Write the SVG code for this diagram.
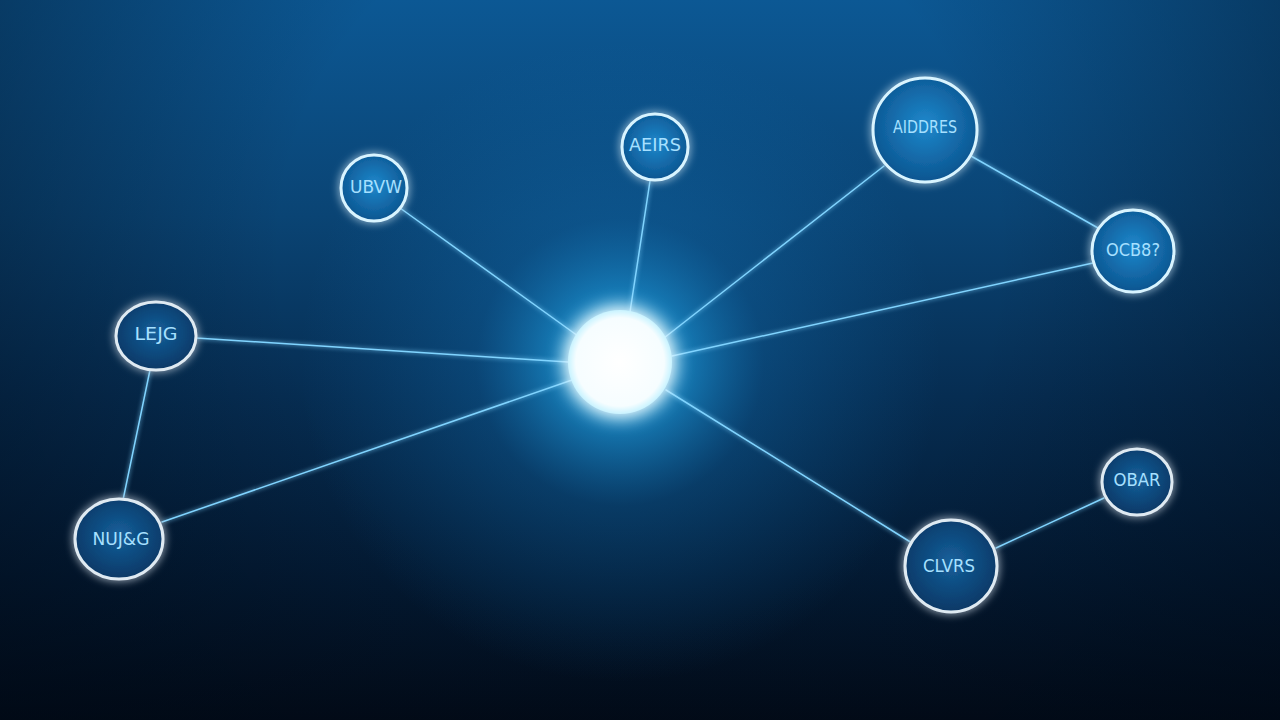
<svg xmlns="http://www.w3.org/2000/svg" width="1280" height="720" viewBox="0 0 1280 720">
<defs>
<linearGradient id="bgv" x1="0" y1="0" x2="0" y2="1">
<stop offset="0" stop-color="#0c5894"/>
<stop offset="0.3" stop-color="#0a4474"/>
<stop offset="0.55" stop-color="#062d52"/>
<stop offset="0.8" stop-color="#031a33"/>
<stop offset="1" stop-color="#020b18"/>
</linearGradient>
<radialGradient id="vig" cx="640" cy="250" r="900" gradientUnits="userSpaceOnUse">
<stop offset="0.4" stop-color="#000814" stop-opacity="0"/>
<stop offset="1" stop-color="#000814" stop-opacity="0.6"/>
</radialGradient>
<radialGradient id="halo" cx="620" cy="362" r="320" gradientUnits="userSpaceOnUse">
<stop offset="0" stop-color="#36c8ff" stop-opacity="0.95"/>
<stop offset="0.18" stop-color="#1ea2e6" stop-opacity="0.7"/>
<stop offset="0.45" stop-color="#1276bd" stop-opacity="0.3"/>
<stop offset="1" stop-color="#0e6aae" stop-opacity="0"/>
</radialGradient>
<radialGradient id="core" cx="0.5" cy="0.5" r="0.5">
<stop offset="0" stop-color="#ffffff"/>
<stop offset="0.85" stop-color="#f6fdff"/>
<stop offset="1" stop-color="#c8f3ff"/>
</radialGradient>
<radialGradient id="nodeFill" cx="0.5" cy="0.45" r="0.55">
<stop offset="0" stop-color="#1e88cc"/>
<stop offset="1" stop-color="#0c5590"/>
</radialGradient>
<radialGradient id="nodeFillDark" cx="0.5" cy="0.45" r="0.55">
<stop offset="0" stop-color="#15609b"/>
<stop offset="1" stop-color="#093866"/>
</radialGradient>
<filter id="glow" x="-50%" y="-50%" width="200%" height="200%">
<feGaussianBlur in="SourceGraphic" stdDeviation="4" result="b"/>
<feMerge><feMergeNode in="b"/><feMergeNode in="SourceGraphic"/></feMerge>
</filter>
<filter id="bigglow" x="-100%" y="-100%" width="300%" height="300%">
<feGaussianBlur in="SourceGraphic" stdDeviation="10" result="b"/>
<feMerge><feMergeNode in="b"/><feMergeNode in="b"/><feMergeNode in="SourceGraphic"/></feMerge>
</filter>
<filter id="lineglow" x="-10%" y="-10%" width="120%" height="120%">
<feGaussianBlur in="SourceGraphic" stdDeviation="2" result="b"/>
<feMerge><feMergeNode in="b"/><feMergeNode in="SourceGraphic"/></feMerge>
</filter>
</defs>
<style>
.ring{fill:url(#nodeFill);stroke:#d8f4ff;stroke-width:3;filter:url(#glow)}
.ringd{fill:url(#nodeFillDark);stroke:#dfeaf2;stroke-width:3;filter:url(#glow)}
.lbl{font-family:"DejaVu Sans Condensed","Liberation Sans",sans-serif;font-size:17px;font-weight:normal;fill:#a6e0ff;text-anchor:middle;dominant-baseline:central}
.edge{stroke:#80d4ff;stroke-width:1.5;fill:none;stroke-linecap:round}
</style>
<rect width="1280" height="720" fill="url(#bgv)"/>
<rect width="1280" height="720" fill="url(#vig)"/>
<circle cx="620" cy="362" r="320" fill="url(#halo)"/>
<g id="connectors" filter="url(#lineglow)">
<line class="edge" x1="400" y1="208" x2="578" y2="336"/>
<line class="edge" x1="650" y1="181" x2="630" y2="312"/>
<line class="edge" x1="884" y1="166" x2="664" y2="338"/>
<line class="edge" x1="971" y1="156" x2="1098" y2="228"/>
<line class="edge" x1="1093" y1="263" x2="672" y2="356"/>
<line class="edge" x1="196" y1="338" x2="568" y2="362"/>
<line class="edge" x1="150" y1="370" x2="123" y2="500"/>
<line class="edge" x1="162" y1="522" x2="572" y2="380"/>
<line class="edge" x1="666" y1="390" x2="912" y2="543"/>
<line class="edge" x1="996" y1="548" x2="1104" y2="498"/>
</g>
<g id="center">
<circle cx="620" cy="362" r="52" fill="url(#core)" filter="url(#bigglow)"/>
</g>
<g id="n-ubvw">
<circle class="ring" cx="374" cy="188" r="33"/>
<text class="lbl" x="376" y="187" textLength="52" lengthAdjust="spacingAndGlyphs">UBVW</text>
</g>
<g id="n-aeirs">
<circle class="ring" cx="655" cy="147" r="33"/>
<text class="lbl" x="655" y="145" textLength="52" lengthAdjust="spacingAndGlyphs">AEIRS</text>
</g>
<g id="n-aiddres">
<circle class="ring" cx="925" cy="130" r="52"/>
<text class="lbl" x="925" y="127" textLength="64" lengthAdjust="spacingAndGlyphs">AIDDRES</text>
</g>
<g id="n-ocb">
<circle class="ring" cx="1133" cy="251" r="41"/>
<text class="lbl" x="1133" y="250" textLength="54" lengthAdjust="spacingAndGlyphs">OCB8?</text>
</g>
<g id="n-lejg">
<ellipse class="ringd" cx="156" cy="336" rx="40" ry="34"/>
<text class="lbl" x="156" y="334" textLength="43" lengthAdjust="spacingAndGlyphs">LEJG</text>
</g>
<g id="n-nujg">
<ellipse class="ringd" cx="119" cy="539" rx="44" ry="40"/>
<text class="lbl" x="121" y="539" textLength="57" lengthAdjust="spacingAndGlyphs">NUJ&amp;G</text>
</g>
<g id="n-clvrs">
<circle class="ringd" cx="951" cy="566" r="46"/>
<text class="lbl" x="949" y="566" textLength="52" lengthAdjust="spacingAndGlyphs">CLVRS</text>
</g>
<g id="n-obar">
<ellipse class="ringd" cx="1137" cy="482" rx="35" ry="33"/>
<text class="lbl" x="1137" y="480" textLength="47" lengthAdjust="spacingAndGlyphs">OBAR</text>
</g>
</svg>
